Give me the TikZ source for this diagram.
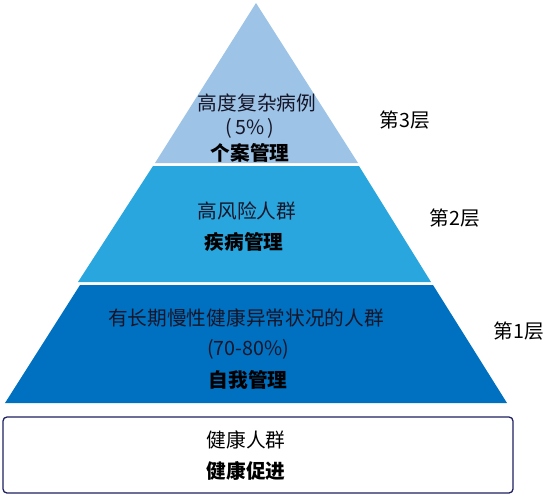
\documentclass[tikz,border=0pt]{standalone}
\usepackage{fontspec}
\setmainfont{Noto Sans CJK SC}
\usepackage{tikz}
\usetikzlibrary{positioning}
\usepackage{xcolor}
\definecolor{tierthree}{RGB}{157,195,230}
\definecolor{tiertwo}{RGB}{41,166,222}
\definecolor{tierone}{RGB}{0,112,192}
\definecolor{boxline}{RGB}{31,32,96}
\definecolor{inkdark}{RGB}{22,22,40}

\tikzset{
    plain/.style={font=\fontsize{16.8}{19}\selectfont, text=inkdark, inner sep=0pt},
    strong/.style={font=\fontsize{16.8}{19}\selectfont\bfseries, text=black, inner sep=0pt},
    layer/.style={font=\fontsize{16.8}{19}\selectfont, text=black, inner sep=0pt}
}

\begin{document}
\begin{tikzpicture}[x=0.03cm, y=-0.03cm]
\useasboundingbox (0,0) rectangle (543,495);
% tier 3
\fill[tierthree] (256,3) -- (358,163) -- (155,163) -- cycle;
\node[plain] (caseA) at (257,103) {高度复杂病例};
\node[plain] (caseB) at (250,128) {(\,5\%\,)};
\node[strong] (caseC) at (250,153) {个案管理};
\node[layer] (layerC) at (405,120) {第3层};
% tier 2
\fill[tiertwo] (153,166) -- (359,166) -- (431,282) -- (78,282) -- cycle;
\node[plain] (riskA) at (247,211) {高风险人群};
\node[strong] (riskB) at (244,242) {疾病管理};
\node[layer] (layerB) at (455,218) {第2层};
% tier 1
\fill[tierone] (80,285) -- (433,285) -- (507,403) -- (5,403) -- cycle;
\node[plain] (chronA) at (246,318) {有长期慢性健康异常状况的人群};
\node[plain] (chronB) at (248,349) {(70-80\%)};
\node[strong] (chronC) at (248,380) {自我管理};
\node[layer] (layerA) at (519,331) {第1层};
% base
\draw[boxline, line width=1.1pt, rounded corners=0.12cm] (3,417) rectangle (513,493);
\node[plain, text=black] (healthA) at (246,440) {健康人群};
\node[strong] (healthB) at (246,471) {健康促进};
\end{tikzpicture}
\end{document}
